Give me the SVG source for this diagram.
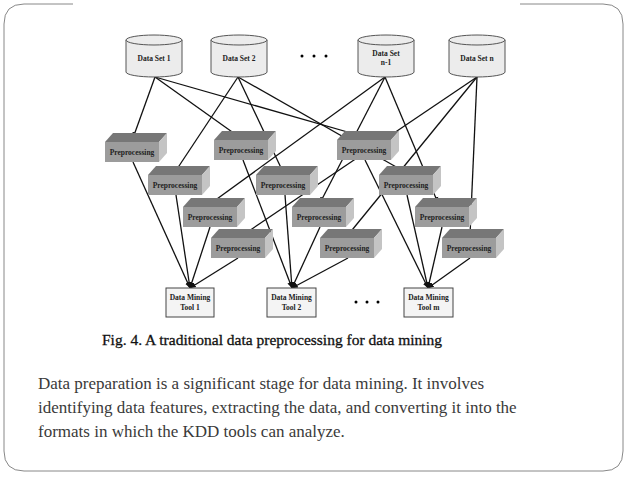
<svg xmlns="http://www.w3.org/2000/svg" width="638" height="478" viewBox="0 0 638 478">
<style>
.cyl{fill:#ececec;stroke:#555;stroke-width:1}
.lbl{font-family:"Liberation Serif","Times New Roman","DejaVu Serif",serif;font-weight:bold;font-size:7.5px;fill:#222;text-anchor:middle}
.ser{font-family:"Liberation Serif","Times New Roman","DejaVu Serif",serif}
.fr{fill:#9c9c9c}.tp{fill:#777}.sd{fill:#c4c4c4}
.e{stroke:#111;stroke-width:1.3;fill:none;marker-end:url(#a)}
.tool{fill:#f4f4f4;stroke:#444;stroke-width:1}
</style>
<defs>
<marker id="a" viewBox="0 0 10 10" refX="9" refY="5" markerWidth="5" markerHeight="5" orient="auto"><path d="M0,1L10,5L0,9z" fill="#111"/></marker>
<g id="pp"><polygon class="tp" points="0,0 8,-9 62,-9 54,0"/><polygon class="sd" points="54,0 62,-9 62,11 54,20"/><rect class="fr" x="0" y="0" width="54" height="20"/><text class="lbl" x="27" y="13">Preprocessing</text></g>
<g id="cy"><path class="cyl" d="M0,40 V72 A28,5 0 0 0 56,72 V40"/><ellipse class="cyl" cx="28" cy="40" rx="28" ry="5"/></g>
</defs>
<rect width="638" height="478" fill="#fff"/>
<path d="M73,4 H24 Q4,4 4,24 V451 Q4,471 24,471 H603 Q623,471 623,451 V24 Q623,4 603,4 H520" fill="none" stroke="#888" stroke-width="1"/>
<g id="connectors">
<line class="e" x1="155" y1="77" x2="133" y2="138"/><line class="e" x1="155" y1="77" x2="242" y2="139"/><line class="e" x1="155" y1="77" x2="365" y2="137"/>
<line class="e" x1="238" y1="77" x2="175" y2="172"/><line class="e" x1="238" y1="77" x2="283" y2="172"/><line class="e" x1="238" y1="77" x2="405" y2="172"/>
<line class="e" x1="385" y1="77" x2="210" y2="204"/><line class="e" x1="385" y1="77" x2="320" y2="203"/><line class="e" x1="385" y1="77" x2="438" y2="203"/>
<line class="e" x1="477" y1="77" x2="243" y2="235"/><line class="e" x1="477" y1="77" x2="348" y2="235"/><line class="e" x1="477" y1="77" x2="470" y2="235"/>
<line class="e" x1="133" y1="162" x2="190" y2="288"/><line class="e" x1="176" y1="195" x2="190" y2="288"/><line class="e" x1="210" y1="227" x2="190" y2="288"/><line class="e" x1="238" y1="258" x2="190" y2="288"/>
<line class="e" x1="243" y1="160" x2="292" y2="288"/><line class="e" x1="285" y1="195" x2="292" y2="288"/><line class="e" x1="320" y1="227" x2="292" y2="288"/><line class="e" x1="348" y1="258" x2="292" y2="288"/>
<line class="e" x1="365" y1="160" x2="428" y2="288"/><line class="e" x1="407" y1="195" x2="428" y2="288"/><line class="e" x1="442" y1="227" x2="428" y2="288"/><line class="e" x1="470" y1="258" x2="428" y2="288"/>
</g>
<g id="ds1"><use href="#cy" x="126"/><text class="lbl" x="154" y="61">Data Set 1</text></g>
<g id="ds2"><use href="#cy" x="211"/><text class="lbl" x="239" y="61">Data Set 2</text></g>
<g id="dsn1"><use href="#cy" x="358"/><text class="lbl" x="386" y="56">Data Set</text><text class="lbl" x="386" y="65">n-1</text></g>
<g id="dsn"><use href="#cy" x="449"/><text class="lbl" x="477" y="61">Data Set n</text></g>
<g id="dots1"><circle cx="302" cy="56" r="1.5"/><circle cx="314" cy="56" r="1.5"/><circle cx="326" cy="56" r="1.5"/></g>
<g id="p1"><use href="#pp" x="105" y="142"/></g>
<g id="p2"><use href="#pp" x="214" y="140"/></g>
<g id="p3"><use href="#pp" x="337" y="140"/></g>
<g id="p4"><use href="#pp" x="148" y="175"/></g>
<g id="p5"><use href="#pp" x="256" y="175"/></g>
<g id="p6"><use href="#pp" x="379" y="175"/></g>
<g id="p7"><use href="#pp" x="183" y="207"/></g>
<g id="p8"><use href="#pp" x="292" y="207"/></g>
<g id="p9"><use href="#pp" x="415" y="207"/></g>
<g id="p10"><use href="#pp" x="211" y="238"/></g>
<g id="p11"><use href="#pp" x="320" y="238"/></g>
<g id="p12"><use href="#pp" x="442" y="238"/></g>
<g id="t1"><rect class="tool" x="166" y="288" width="48" height="29"/><text class="lbl" x="190" y="300">Data Mining</text><text class="lbl" x="190" y="310">Tool 1</text></g>
<g id="t2"><rect class="tool" x="267" y="288" width="49" height="29"/><text class="lbl" x="291.5" y="300">Data Mining</text><text class="lbl" x="291.5" y="310">Tool 2</text></g>
<g id="tm"><rect class="tool" x="404" y="288" width="49" height="29"/><text class="lbl" x="428.5" y="300">Data Mining</text><text class="lbl" x="428.5" y="310">Tool m</text></g>
<g id="dots2"><circle cx="356" cy="302" r="1.5"/><circle cx="367" cy="302" r="1.5"/><circle cx="378" cy="302" r="1.5"/></g>
<text class="ser" x="102" y="345" font-size="15.5" fill="#111" stroke="#111" stroke-width="0.3">Fig. 4. A traditional data preprocessing for data mining</text>
<g class="ser" font-size="17" fill="#3a3a3a">
<text x="38" y="389">Data preparation is a significant stage for data mining. It involves</text>
<text x="38" y="413">identifying data features, extracting the data, and converting it into the</text>
<text x="38" y="437">formats in which the KDD tools can analyze.</text>
</g>
</svg>
